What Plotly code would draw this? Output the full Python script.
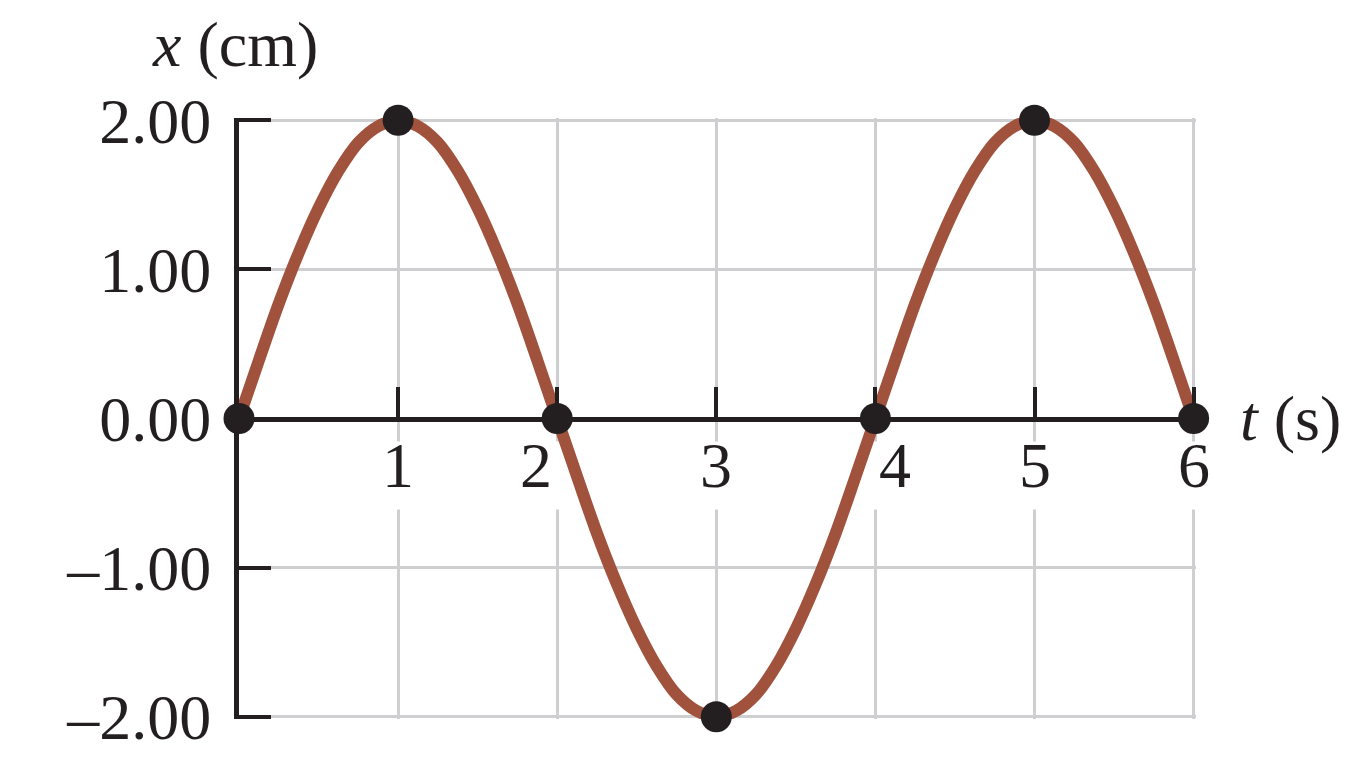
import plotly.graph_objects as go

# curve, every eighth of a second
t_curve = [0, 0.125, 0.25, 0.375, 0.5, 0.625, 0.75, 0.875,
           1, 1.125, 1.25, 1.375, 1.5, 1.625, 1.75, 1.875,
           2, 2.125, 2.25, 2.375, 2.5, 2.625, 2.75, 2.875,
           3, 3.125, 3.25, 3.375, 3.5, 3.625, 3.75, 3.875,
           4, 4.125, 4.25, 4.375, 4.5, 4.625, 4.75, 4.875,
           5, 5.125, 5.25, 5.375, 5.5, 5.625, 5.75, 5.875, 6]
x_curve = [0, 0.39, 0.77, 1.11, 1.41, 1.66, 1.85, 1.96,
           2.00, 1.96, 1.85, 1.66, 1.41, 1.11, 0.77, 0.39,
           0, -0.39, -0.77, -1.11, -1.41, -1.66, -1.85, -1.96,
           -2.00, -1.96, -1.85, -1.66, -1.41, -1.11, -0.77, -0.39,
           0, 0.39, 0.77, 1.11, 1.41, 1.66, 1.85, 1.96,
           2.00, 1.96, 1.85, 1.66, 1.41, 1.11, 0.77, 0.39, 0]

# black dots
t_dots = [0, 1, 2, 3, 4, 5, 6]
x_dots = [0, 2.00, 0, -2.00, 0, 2.00, 0]

# axis ticks
t_ticks = [1, 2, 3, 4, 5, 6]
t_ticklabels = ["1", "2", "3", "4", "5", "6"]
t_label_anchor = ["center", "right", "center", "left", "center", "center"]
x_ticks = [-2, -1, 0, 1, 2]
x_ticklabels = ["\u20132.00", "\u20131.00", "0.00", "1.00", "2.00"]

curve_color = "#A0523D"
ink = "#231f20"
grid_color = "#cfcfd1"
serif = "Liberation Serif"

fig = go.Figure()
fig.add_trace(go.Scatter(x=t_curve, y=x_curve, mode='lines', line_shape='spline',
                         line=dict(color=curve_color, width=12),
                         cliponaxis=False, hoverinfo='skip'))
fig.add_trace(go.Scatter(x=t_dots, y=x_dots, mode='markers',
                         marker=dict(color=ink, size=31),
                         cliponaxis=False,
                         hovertemplate="t=%{x} s<br />x=%{y} cm<extra></extra>"))

# x tick labels under the axis; the grid is broken behind them
for t, lab, anc in zip(t_ticks, t_ticklabels, t_label_anchor):
    shift = {"center": 0, "right": -3, "left": 2}[anc]
    fig.add_annotation(x=t, y=0, xref="x", yref="y", text=lab, showarrow=False,
                       xanchor=anc, yanchor="middle", yshift=-47, xshift=shift,
                       font=dict(family=serif, size=64, color=ink))
    fig.add_shape(type="rect", x0=t - 0.04, x1=t + 0.04, y0=-0.155, y1=-0.61,
                  xref="x", yref="y", layer="between",
                  fillcolor="white", line_width=0)

fig.add_annotation(x=0, y=1, xref="x", yref="paper", text="<i>x</i> (cm)",
                   showarrow=False, xanchor="center", yanchor="middle", yshift=74,
                   xshift=-4, font=dict(family=serif, size=64, color=ink))
fig.add_annotation(x=6, y=0, xref="x", yref="y", text="<i>t</i> (s)",
                   showarrow=False, xanchor="left", yanchor="middle", xshift=44,
                   font=dict(family=serif, size=64, color=ink))

# page body adds 8px around the figure
fig.update_layout(width=1341, height=757, showlegend=False,
                  plot_bgcolor="white", paper_bgcolor="white",
                  margin=dict(l=231, r=153, t=110, b=42))

fig.update_xaxes(range=[0, 6.015], tickvals=t_ticks, showticklabels=False,
                 showgrid=True, gridcolor=grid_color, gridwidth=3,
                 zeroline=False, showline=True, linecolor=ink, linewidth=5,
                 anchor="free", position=0.5,
                 ticks="inside", ticklen=30, tickwidth=4, tickcolor=ink)
fig.update_yaxes(range=[-2.015, 2.015], tickvals=x_ticks, ticktext=x_ticklabels,
                 showgrid=True, gridcolor=grid_color, gridwidth=3,
                 zeroline=False, showline=True, linecolor=ink, linewidth=5,
                 ticks="inside", ticklen=32, tickwidth=4, tickcolor=ink,
                 ticklabelstandoff=10,
                 tickfont=dict(family=serif, size=64, color=ink))

fig.write_html("out.html")
